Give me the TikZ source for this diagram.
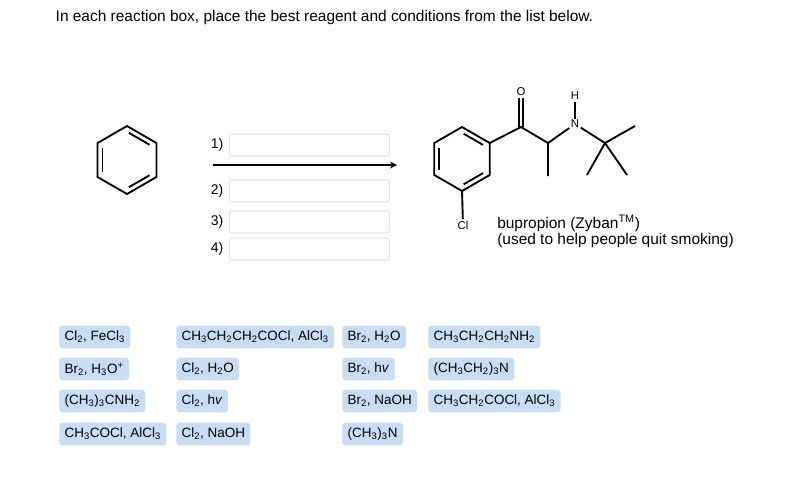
\documentclass[tikz,border=0pt]{standalone}
\usepackage{fontspec}
\setmainfont{Liberation Sans}
\usetikzlibrary{calc}
\begin{document}
\begin{tikzpicture}[x=0.75pt,y=-0.75pt,
  chip/.style={anchor=west,fill=chipblue,rounded corners=2.5pt,inner xsep=4pt,minimum height=17pt,font=\fontsize{10.1}{11}\selectfont},
  ansbox/.style={draw=boxgray,rounded corners=2pt,minimum width=120pt,minimum height=16.5pt,anchor=west},
  num/.style={anchor=east,font=\fontsize{10.5}{11}\selectfont},
  bond/.style={line width=1.4pt}]
\definecolor{chipblue}{RGB}{200,220,242}
\definecolor{boxgray}{RGB}{200,212,225}
\useasboundingbox (0,0) rectangle (802,487);
\node[anchor=west,font=\fontsize{11.6}{13}\selectfont] (title) at (51,17) {In each reaction box, place the best reagent and conditions from the list below.};
% benzene
\foreach \i in {0,...,5}{\coordinate (b\i) at ($(127,160)+({90+60*\i}:34)$);}
\draw[bond] (b0)--(b1)--(b2)--(b3)--(b4)--(b5)--cycle;
\draw[bond] ($(b1)!0.15!(b2)+(5,0)$)--($(b2)!0.15!(b1)+(5,0)$);
\draw[bond] ($(b3)!0.15!(b4)+(-2.5,4.3)$)--($(b4)!0.15!(b3)+(-2.5,4.3)$);
\draw[bond] ($(b5)!0.15!(b0)+(-2.5,-4.3)$)--($(b0)!0.15!(b5)+(-2.5,-4.3)$);
% boxes
\node[num] (n1) at (228,145) {1)}; \node[ansbox] (a1) at (229,145) {};
\node[num] (n2) at (228,191) {2)}; \node[ansbox] (a2) at (229,191) {};
\node[num] (n3) at (228,222) {3)}; \node[ansbox] (a3) at (229,222) {};
\node[num] (n4) at (228,249) {4)}; \node[ansbox] (a4) at (229,249) {};
\coordinate (as) at (213,165); \coordinate (ae) at (397,165);
\draw[line width=1.3pt,-stealth] (as)--(ae);
% product
\foreach \i in {0,...,5}{\coordinate (r\i) at ($(462,159)+({90+60*\i}:32)$);}
\draw[bond] (r0)--(r1)--(r2)--(r3)--(r4)--(r5)--cycle;
\draw[bond] ($(r1)!0.15!(r2)+(5,0)$)--($(r2)!0.15!(r1)+(5,0)$);
\draw[bond] ($(r3)!0.15!(r4)+(-2.5,4.3)$)--($(r4)!0.15!(r3)+(-2.5,4.3)$);
\draw[bond] ($(r5)!0.15!(r0)+(-2.5,-4.3)$)--($(r0)!0.15!(r5)+(-2.5,-4.3)$);
\coordinate (c1) at (521,127); \coordinate (c2) at (548,143); \coordinate (me) at (548,176);
\node[font=\fontsize{8.5}{9}\selectfont,inner sep=1pt] (O) at (521,92) {O};
\node[font=\fontsize{8.5}{9}\selectfont,inner sep=1pt] (N) at (575,124) {N};
\node[font=\fontsize{8.5}{9}\selectfont,inner sep=1pt] (H) at (575,96) {H};
\node[font=\fontsize{8.5}{9}\selectfont,inner sep=1pt] (Cl) at (463,225) {Cl};
\coordinate (t) at (605,143); \coordinate (t1) at (635,126); \coordinate (t2) at (587,175); \coordinate (t3) at (627,175);
\draw[bond] (r4)--(c1)--(c2)--(me);
\draw[bond] (c2)--(N)--(t)--(t1); \draw[bond] (t)--(t2); \draw[bond] (t)--(t3);
\draw[bond] (N)--(H); \draw[bond] (r0)--(Cl);
\draw[bond] ($(c1)+(-2.3,0)$)--($(O.south)+(-2.3,0)$);
\draw[bond] ($(c1)+(2.3,0)$)--($(O.south)+(2.3,0)$);
\node[anchor=north west,align=left,inner sep=0,font=\fontsize{11.6}{10.5}\selectfont] (cap) at (497,215) {bupropion (Zyban\textsuperscript{TM})\\(used to help people quit smoking)};
% chips
\node[chip] (k1) at (59,337) {Cl\textsubscript{2}, FeCl\textsubscript{3}};
\node[chip] (k2) at (59,369) {Br\textsubscript{2}, H\textsubscript{3}O\textsuperscript{+}};
\node[chip] (k3) at (59,401) {(CH\textsubscript{3})\textsubscript{3}CNH\textsubscript{2}};
\node[chip] (k4) at (59,434) {CH\textsubscript{3}COCl, AlCl\textsubscript{3}};
\node[chip] (k5) at (176,337) {CH\textsubscript{3}CH\textsubscript{2}CH\textsubscript{2}COCl, AlCl\textsubscript{3}};
\node[chip] (k6) at (176,369) {Cl\textsubscript{2}, H\textsubscript{2}O};
\node[chip] (k7) at (176,401) {Cl\textsubscript{2}, h\textit{v}};
\node[chip] (k8) at (176,434) {Cl\textsubscript{2}, NaOH};
\node[chip] (k9) at (342,337) {Br\textsubscript{2}, H\textsubscript{2}O};
\node[chip] (k10) at (342,369) {Br\textsubscript{2}, h\textit{v}};
\node[chip] (k11) at (342,401) {Br\textsubscript{2}, NaOH};
\node[chip] (k12) at (342,434) {(CH\textsubscript{3})\textsubscript{3}N};
\node[chip] (k13) at (428,337) {CH\textsubscript{3}CH\textsubscript{2}CH\textsubscript{2}NH\textsubscript{2}};
\node[chip] (k14) at (428,369) {(CH\textsubscript{3}CH\textsubscript{2})\textsubscript{3}N};
\node[chip] (k15) at (428,401) {CH\textsubscript{3}CH\textsubscript{2}COCl, AlCl\textsubscript{3}};
\end{tikzpicture}
\end{document}
